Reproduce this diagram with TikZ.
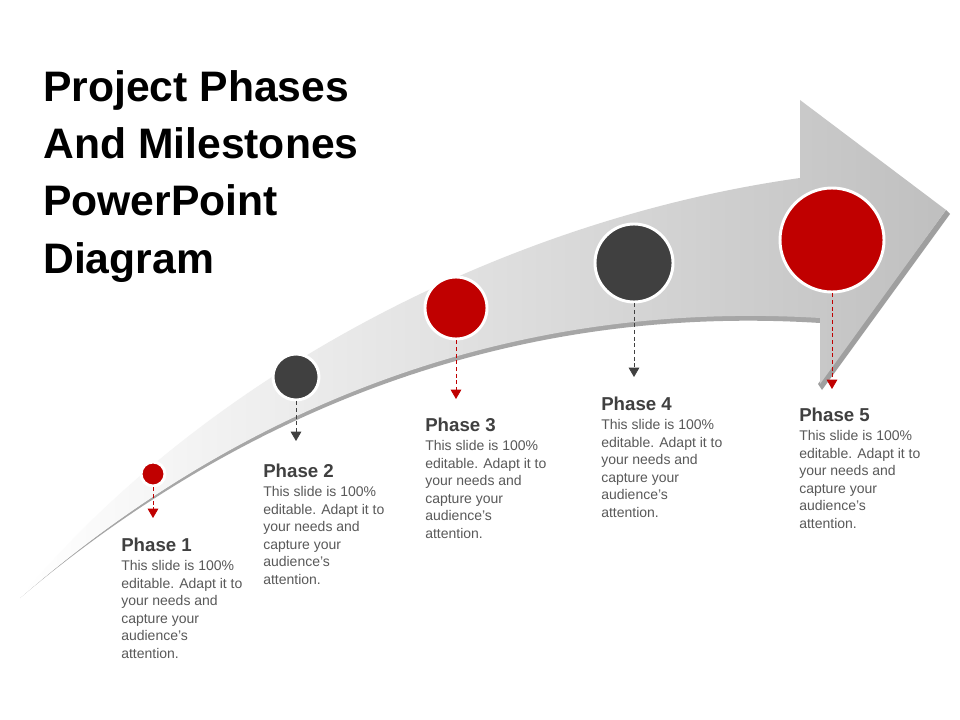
\documentclass[tikz,border=0pt]{standalone}
\usepackage{fontspec}
\setmainfont{Liberation Sans}
\usetikzlibrary{arrows.meta}
\definecolor{darkred}{HTML}{C00000}
\definecolor{darkgray}{HTML}{404040}
\definecolor{bodygray}{HTML}{595959}
\tikzset{
 milestone/.style={circle, draw=white, line width=2.2pt, inner sep=0pt},
 drop/.style={densely dashed, line width=0.6pt, -{Triangle[length=7pt,width=8pt]}},
 phasetitle/.style={anchor=base west, inner sep=0pt, text=darkgray, font=\fontsize{14}{16}\selectfont\bfseries},
 phasetext/.style={anchor=north west, inner sep=0pt, text=bodygray, align=left, font=\fontsize{10.5}{13.2}\selectfont}
}
\begin{document}
\begin{tikzpicture}[x=0.75pt,y=-0.75pt]
 \useasboundingbox[fill=white] (0,0) rectangle (960,720);
 % arrow
 \fill[gray!75] (950,214) -- (822,390) -- (818,384) -- (946,210) -- cycle;
 \fill[gray!70] (20,598) .. controls (250,404) and (520,304) .. (820,323) -- (820,316) .. controls (520,298) and (250,398) .. cycle;
 \shade[left color=white, right color=gray!50, middle color=gray!25]
  (20,598) .. controls (200,380) and (500,220) .. (800,178) -- (800,100) -- (946,210)
  -- (820,384) -- (820,318) .. controls (520,300) and (250,398) .. cycle;
 % title
 \node[anchor=north west, inner sep=0pt, align=left, font=\fontsize{32}{43}\selectfont\bfseries] (title) at (43,70)
  {Project Phases\\And Milestones\\PowerPoint\\Diagram};
 % milestones
 \node[milestone, fill=darkred, minimum size=24*0.75pt] (m1) at (153,474) {};
 \node[milestone, fill=darkgray, minimum size=46*0.75pt] (m2) at (296,377) {};
 \node[milestone, fill=darkred, minimum size=62*0.75pt] (m3) at (456,308) {};
 \node[milestone, fill=darkgray, minimum size=78*0.75pt] (m4) at (634,263) {};
 \node[milestone, fill=darkred, minimum size=104*0.75pt] (m5) at (832,240) {};
 \coordinate (e1) at (153,518);
 \coordinate (e2) at (296,441);
 \coordinate (e3) at (456,399);
 \coordinate (e4) at (634,377);
 \coordinate (e5) at (832,389);
 \draw[drop, darkred] (m1.south) -- (e1);
 \draw[drop, darkgray] (m2.south) -- (e2);
 \draw[drop, darkred] (m3.south) -- (e3);
 \draw[drop, darkgray] (m4.south) -- (e4);
 \draw[drop, darkred] (m5.south) -- (e5);
 % texts
 \foreach \i/\x/\y in {1/121/551, 2/263/477, 3/425/431, 4/601/410, 5/799/421}{
  \node[phasetitle] (h\i) at (\x,\y) {Phase \i};
  \node[phasetext] (t\i) at (\x,\y+9) {This slide is 100\%\\editable. Adapt it to\\your needs and\\capture your\\audience's\\attention.};
 }
\end{tikzpicture}
\end{document}
